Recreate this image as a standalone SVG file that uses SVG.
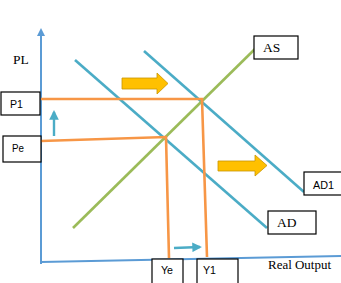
<svg xmlns="http://www.w3.org/2000/svg" width="341" height="283" viewBox="0 0 341 283">
<style>
.axis{stroke:#5b9bd5;stroke-width:2;fill:none}
.curve{stroke:#4bacc6;stroke-width:2.6;fill:none}
.as{stroke:#9bbb59;stroke-width:2.6;fill:none}
.ref{stroke:#f79646;stroke-width:2.6;fill:none}
.box{fill:#fff;stroke:#000;stroke-width:1.2}
.serif{font-family:"Liberation Serif","Times New Roman",serif;font-size:13.5px;fill:#000}
.sans{font-family:"Liberation Sans",Arial,sans-serif;font-size:11px;fill:#000}
.yarrow{fill:#ffc000;stroke:#c89600;stroke-width:0.8}
.barrow{stroke:#4bacc6;stroke-width:2.4;fill:none}
</style>
<defs>
<marker id="ah" markerWidth="4" markerHeight="4" refX="3.2" refY="2" orient="auto" markerUnits="strokeWidth">
<path d="M0,0 L4,2 L0,4 Z" fill="#4bacc6"/>
</marker>
<marker id="axh" markerWidth="4" markerHeight="4" refX="3" refY="2" orient="auto" markerUnits="strokeWidth">
<path d="M0,0 L4,2 L0,4 Z" fill="#5b9bd5"/>
</marker>
</defs>
<g id="connectors">
<line class="axis" x1="41" y1="264" x2="41" y2="30" marker-end="url(#axh)"/>
<line class="axis" x1="41" y1="262" x2="341" y2="256"/>
<line class="curve" x1="75" y1="60" x2="267" y2="228"/>
<line class="curve" x1="144" y1="51" x2="304" y2="192"/>
<line class="as" x1="73" y1="228" x2="258" y2="46"/>
<polyline class="ref" points="41,99 202,99 207,257"/>
<polyline class="ref" points="41,141 166,137 169,258"/>
<line class="barrow" x1="54" y1="136" x2="54" y2="112" marker-end="url(#ah)"/>
<line class="barrow" x1="174" y1="248" x2="200" y2="247" marker-end="url(#ah)"/>
<path class="yarrow" d="M122,78 L157,78 L157,73 L168,83.5 L157,94 L157,89 L122,89 Z"/>
<path class="yarrow" d="M218,161 L255,161 L255,155 L267,165.5 L255,176 L255,171 L218,171 Z"/>
</g>
<g id="PL"><text class="serif" x="13" y="64">PL</text></g>
<g id="P1"><rect class="box" x="1" y="92" width="39" height="23"/><text class="sans" x="10" y="108" textLength="13" lengthAdjust="spacingAndGlyphs">P1</text></g>
<g id="Pe"><rect class="box" x="3" y="136" width="38" height="26"/><text class="sans" x="12" y="152" textLength="12" lengthAdjust="spacingAndGlyphs">Pe</text></g>
<g id="AS"><rect class="box" x="254" y="36" width="44" height="23"/><text class="serif" x="263" y="52">AS</text></g>
<g id="AD1"><rect class="box" x="304" y="172" width="40" height="23"/><text class="sans" x="313" y="189" textLength="21" lengthAdjust="spacingAndGlyphs">AD1</text></g>
<g id="AD"><rect class="box" x="268" y="211" width="48" height="23"/><text class="serif" x="277" y="227">AD</text></g>
<g id="Ye"><rect class="box" x="152" y="259" width="31" height="26"/><text class="sans" x="161" y="274" textLength="12" lengthAdjust="spacingAndGlyphs">Ye</text></g>
<g id="Y1"><rect class="box" x="197" y="259" width="41" height="26"/><text class="sans" x="203" y="274" textLength="13" lengthAdjust="spacingAndGlyphs">Y1</text></g>
<g id="RealOutput"><text class="serif" x="268" y="269" style="font-size:12.5px" textLength="63" lengthAdjust="spacingAndGlyphs">Real Output</text></g>
</svg>
